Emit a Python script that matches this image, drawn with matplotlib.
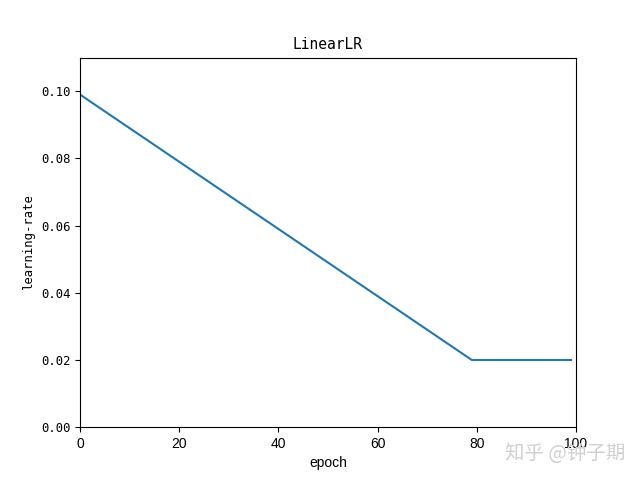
import matplotlib
matplotlib.use('Agg')
import matplotlib.pyplot as plt

# 学习率曲线的拐点（LinearLR：线性下降后保持不变）
epochs = [0, 79, 99]
lrs = [0.099, 0.02, 0.02]

mono = 'DejaVu Sans Mono'
sans = 'Liberation Sans'

fig, ax = plt.subplots(figsize=(6.4, 4.8), dpi=100)
ax.plot(epochs, lrs, color='#1f77b4', linewidth=1.5)

ax.set_xlim(0, 100)
ax.set_ylim(0, 0.11)
ax.set_yticks([0.0, 0.02, 0.04, 0.06, 0.08, 0.10])
ax.set_yticklabels(['0.00', '0.02', '0.04', '0.06', '0.08', '0.10'], family=mono, fontsize=8.8)
ax.set_xticks([0, 20, 40, 60, 80, 100])
ax.set_xticklabels(['0', '20', '40', '60', '80', '100'], family=sans)

ax.set_title('LinearLR', family=mono, fontsize=10.5)
ax.set_ylabel('learning-rate', family=mono, fontsize=8.8)
ax.set_xlabel('epoch', family=sans)

# 水印
fig.text(0.883, 0.055, '知乎 @钟子期', family=['Noto Sans CJK SC', 'DejaVu Sans'],
         fontsize=14, color='#d0d0d0', ha='center', va='center')

plt.savefig('out.png', dpi=100)
